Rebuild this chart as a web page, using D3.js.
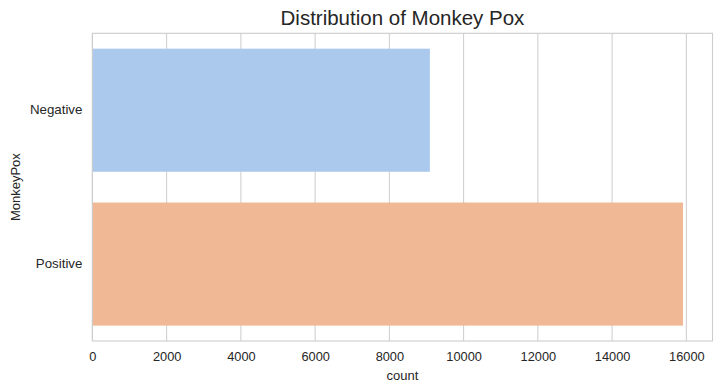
<!DOCTYPE html>
<html>
<head>
<meta charset="utf-8">
<script src="https://cdn.jsdelivr.net/npm/d3@7"></script>
<style>
  body { margin: 0; background: #fff; }
  text { font-family: "Liberation Sans", Arial, sans-serif; fill: #262626; }
</style>
</head>
<body>
<div id="chart"></div>
<script>
const categories = ["Negative", "Positive"];
const counts = [9091, 15909];
const colors = ["#abc9ec", "#f0b894"];
const xTicks = [0, 2000, 4000, 6000, 8000, 10000, 12000, 14000, 16000];

const width = 722;
const height = 390;
const margin = { top: 33.3, right: 9.5, bottom: 49, left: 92.4 };

const svg = d3.select("#chart")
    .append("svg")
    .attr("width", width)
    .attr("height", height);

// matplotlib-style 5% margin on the right, sticky at 0
const xMax = d3.max(counts) * 1.05;
const xScale = d3.scaleLinear()
    .domain([0, xMax])
    .range([margin.left, width - margin.right]);

const yScale = d3.scaleBand()
    .domain(categories)
    .range([margin.top, height - margin.bottom])
    .paddingInner(0.2)
    .paddingOuter(0.1);

// vertical grid
svg.append("g")
    .selectAll("line")
    .data(xTicks)
    .join("line")
    .attr("x1", d => xScale(d))
    .attr("x2", d => xScale(d))
    .attr("y1", margin.top)
    .attr("y2", height - margin.bottom)
    .attr("stroke", "#cccccc")
    .attr("stroke-width", 1);

// bars
svg.append("g")
    .selectAll("rect")
    .data(categories)
    .join("rect")
    .attr("x", xScale(0))
    .attr("y", d => yScale(d))
    .attr("width", (d, i) => xScale(counts[i]) - xScale(0))
    .attr("height", yScale.bandwidth())
    .attr("fill", (d, i) => colors[i]);

// frame
svg.append("rect")
    .attr("x", margin.left)
    .attr("y", margin.top)
    .attr("width", width - margin.right - margin.left)
    .attr("height", height - margin.bottom - margin.top)
    .attr("fill", "none")
    .attr("stroke", "#cccccc")
    .attr("stroke-width", 1.1);

const xAxis = svg.append("g")
    .attr("transform", `translate(0,${height - margin.bottom})`)
    .call(d3.axisBottom(xScale).tickValues(xTicks).tickSize(0).tickPadding(20).tickFormat(d3.format("d")));
xAxis.select(".domain").remove();
xAxis.selectAll("text")
    .attr("dy", 0)
    .style("font-size", "12.8px")
    .style("fill", "#262626");

const yAxis = svg.append("g")
    .attr("transform", `translate(${margin.left},0)`)
    .call(d3.axisLeft(yScale).tickSize(0).tickPadding(10));
yAxis.select(".domain").remove();
yAxis.selectAll("text")
    .style("font-size", "13.3px")
    .style("fill", "#262626");

svg.append("text")
    .attr("x", (margin.left + width - margin.right) / 2)
    .attr("y", 25)
    .attr("text-anchor", "middle")
    .style("font-size", "20.5px")
    .text("Distribution of Monkey Pox");

svg.append("text")
    .attr("x", (margin.left + width - margin.right) / 2)
    .attr("y", 380)
    .attr("text-anchor", "middle")
    .style("font-size", "13px")
    .text("count");

svg.append("text")
    .attr("transform", `translate(20,${(margin.top + height - margin.bottom) / 2}) rotate(-90)`)
    .attr("text-anchor", "middle")
    .style("font-size", "13px")
    .text("MonkeyPox");
</script>
</body>
</html>
